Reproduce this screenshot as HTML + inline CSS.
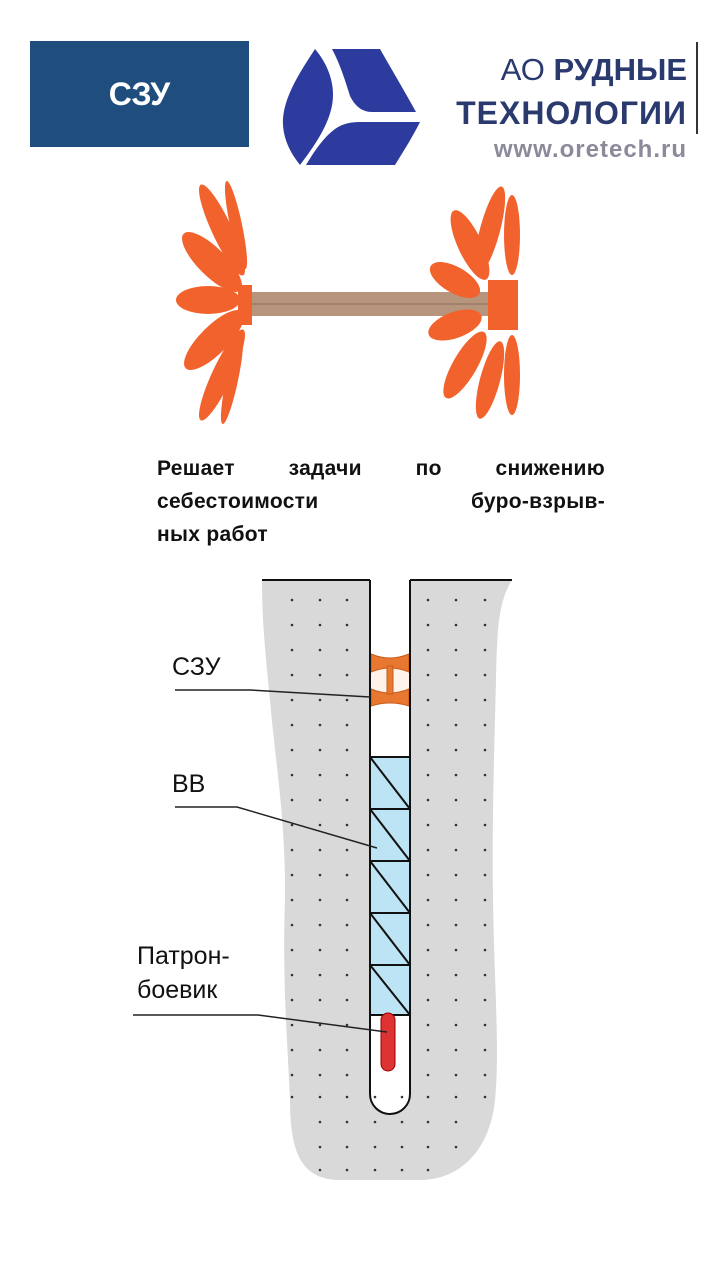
<!DOCTYPE html>
<html><head><meta charset="utf-8"><style>
body{margin:0;width:725px;height:1288px;background:#fff;position:relative;overflow:hidden;font-family:"Liberation Sans",sans-serif}
.abs{position:absolute}
.ln{display:flex;justify-content:space-between;height:33px}
</style></head><body>
<div class="abs" style="left:30px;top:41px;width:219px;height:106px;background:#1f4e7e;color:#fff;font-weight:bold;font-size:32px;line-height:106px;text-align:center">СЗУ</div>
<svg class="abs" style="left:0;top:0" width="440" height="180">
<path d="M315 49 C326 62 333 78 333 95 C333 120 315 145 300 165 C288 150 282 135 283 118 C285 95 300 72 315 49Z" fill="#2d3b9e"/>
<path d="M332 49 L380 49 C392 70 405 92 416 112 L372 112 C362 112 355 106 350 96 C345 80 340 64 332 49Z" fill="#2d3b9e"/>
<path d="M420 122 C412 138 403 152 395 165 L306 165 C315 150 324 137 335 129 C342 124 350 122 360 122Z" fill="#2d3b9e"/>
</svg>
<div class="abs" style="right:38px;top:52px;font-size:31px;color:#2b3a6e;white-space:nowrap">АО <b>РУДНЫЕ</b></div>
<div class="abs" style="right:38px;top:95px;font-size:32px;font-weight:bold;color:#2b3a6e;letter-spacing:1px">ТЕХНОЛОГИИ</div>
<div class="abs" style="right:38px;top:136px;font-size:24px;font-weight:bold;color:#8a8a9a;letter-spacing:1px">www.oretech.ru</div>
<div class="abs" style="left:696px;top:42px;width:2px;height:92px;background:#333"></div>

<svg class="abs" style="left:0;top:0" width="725" height="440">
<rect x="248" y="292" width="248" height="24" fill="#b7957c"/>
<line x1="248" y1="304" x2="496" y2="304" stroke="#8a6e5a"/>
<g fill="#f2622c">
<ellipse cx="222" cy="230" rx="10" ry="50" transform="rotate(-25 222 230)"/>
<ellipse cx="212" cy="262" rx="14" ry="40" transform="rotate(-45 212 262)"/>
<ellipse cx="208" cy="300" rx="32" ry="14"/>
<ellipse cx="214" cy="340" rx="14" ry="40" transform="rotate(45 214 340)"/>
<ellipse cx="222" cy="375" rx="10" ry="50" transform="rotate(25 222 375)"/>
<ellipse cx="232" cy="380" rx="6" ry="45" transform="rotate(12 232 380)"/>
<ellipse cx="236" cy="225" rx="6" ry="45" transform="rotate(-12 236 225)"/>
<rect x="238" y="285" width="14" height="40"/>
<ellipse cx="490" cy="230" rx="10" ry="45" transform="rotate(15 490 230)"/>
<ellipse cx="470" cy="245" rx="12" ry="38" transform="rotate(-25 470 245)"/>
<ellipse cx="455" cy="280" rx="28" ry="13" transform="rotate(30 455 280)"/>
<ellipse cx="455" cy="325" rx="28" ry="13" transform="rotate(-20 455 325)"/>
<ellipse cx="465" cy="365" rx="12" ry="38" transform="rotate(30 465 365)"/>
<ellipse cx="490" cy="380" rx="10" ry="40" transform="rotate(15 490 380)"/>
<ellipse cx="512" cy="375" rx="8" ry="40"/>
<ellipse cx="512" cy="235" rx="8" ry="40"/>
<rect x="488" y="280" width="30" height="50"/>
</g>
</svg>

<div class="abs" style="left:157px;top:452px;width:448px;font-size:21px;font-weight:bold;line-height:33px;color:#111;letter-spacing:0.3px">
<div class="ln"><span>Решает</span><span>задачи</span><span>по</span><span>снижению</span></div>
<div class="ln"><span>себестоимости</span><span>буро-взрыв-</span></div>
<div class="ln"><span>ных работ</span></div>
</div>

<svg class="abs" style="left:0;top:0" width="725" height="1288" viewBox="0 0 725 1288">
<path d="M262 580 L370 580 L370 1094 A20 20 0 0 0 410 1094 L410 580 L512 580 C500 600 497 620 496 680 C494 760 492 820 493 900 C494 980 500 1050 495 1100 C490 1150 460 1180 420 1180 L340 1180 C300 1180 290 1150 290 1100 C288 1050 282 980 285 900 C286 820 275 760 270 700 C265 650 262 620 262 580Z" fill="#d9d9d9"/>
<line x1="262" y1="580" x2="370" y2="580" stroke="#111" stroke-width="2"/>
<line x1="410" y1="580" x2="512" y2="580" stroke="#111" stroke-width="2"/>
<path d="M370 580 L370 1094 A20 20 0 0 0 410 1094 L410 580" fill="#fff" stroke="#111" stroke-width="2"/>
<rect x="371" y="660" width="38" height="40" fill="#fdf3ea"/>
<g stroke="#111" stroke-width="2">
<rect x="370" y="757" width="40" height="52" fill="#bde4f4"/>
<rect x="370" y="809" width="40" height="52" fill="#bde4f4"/>
<rect x="370" y="861" width="40" height="52" fill="#bde4f4"/>
<rect x="370" y="913" width="40" height="52" fill="#bde4f4"/>
<rect x="370" y="965" width="40" height="50" fill="#bde4f4"/>
<line x1="370" y1="757" x2="410" y2="809"/>
<line x1="370" y1="809" x2="410" y2="861"/>
<line x1="370" y1="861" x2="410" y2="913"/>
<line x1="370" y1="913" x2="410" y2="965"/>
<line x1="370" y1="965" x2="410" y2="1015"/>
</g>
<g fill="#e8772f" stroke="#c85a18" stroke-width="1">
<path d="M371 654 Q390 662 409 654 L409 672 Q390 664 371 672Z"/>
<path d="M371 689 Q390 697 409 689 L409 706 Q390 700 371 706Z"/>
<path d="M387 666 L393 666 L393 694 L387 694Z"/>
</g>
<line x1="370" y1="645" x2="370" y2="715" stroke="#111" stroke-width="2"/>
<line x1="410" y1="645" x2="410" y2="715" stroke="#111" stroke-width="2"/>
<rect x="381" y="1013" width="14" height="58" rx="7" fill="#d33" stroke="#900"/>
<g stroke="#222" stroke-width="1.5" fill="none">
<polyline points="175,690 250,690 370,697"/>
<polyline points="175,807 237,807 377,848"/>
<polyline points="133,1015 258,1015 387,1032"/>
</g>
<g font-family="Liberation Sans,sans-serif" font-size="25" fill="#111">
<text x="172" y="675">СЗУ</text>
<text x="172" y="792">ВВ</text>
<text x="137" y="964">Патрон-</text>
<text x="137" y="998">боевик</text>
</g>
</svg>
<svg class="abs" style="left:0;top:0" width="725" height="1288">
<defs><g id="row"><circle cx="292" cy="0" r="1.3"/><circle cx="320" cy="0" r="1.3"/><circle cx="347" cy="0" r="1.3"/><circle cx="428" cy="0" r="1.3"/><circle cx="456" cy="0" r="1.3"/><circle cx="485" cy="0" r="1.3"/></g></defs>
<g fill="#333">
<use href="#row" y="600"/><use href="#row" y="625"/><use href="#row" y="650"/><use href="#row" y="675"/><use href="#row" y="700"/><use href="#row" y="725"/><use href="#row" y="750"/><use href="#row" y="775"/><use href="#row" y="800"/><use href="#row" y="825"/><use href="#row" y="850"/><use href="#row" y="875"/><use href="#row" y="900"/><use href="#row" y="925"/><use href="#row" y="950"/><use href="#row" y="975"/><use href="#row" y="1000"/><use href="#row" y="1025"/><use href="#row" y="1050"/><use href="#row" y="1075"/><use href="#row" y="1097"/>
<circle cx="375" cy="1097" r="1.3"/><circle cx="402" cy="1097" r="1.3"/>
<circle cx="320" cy="1122" r="1.3"/><circle cx="347" cy="1122" r="1.3"/><circle cx="375" cy="1122" r="1.3"/><circle cx="402" cy="1122" r="1.3"/><circle cx="428" cy="1122" r="1.3"/><circle cx="456" cy="1122" r="1.3"/>
<circle cx="320" cy="1147" r="1.3"/><circle cx="347" cy="1147" r="1.3"/><circle cx="375" cy="1147" r="1.3"/><circle cx="402" cy="1147" r="1.3"/><circle cx="428" cy="1147" r="1.3"/><circle cx="456" cy="1147" r="1.3"/>
<circle cx="320" cy="1170" r="1.3"/><circle cx="347" cy="1170" r="1.3"/><circle cx="375" cy="1170" r="1.3"/><circle cx="402" cy="1170" r="1.3"/><circle cx="428" cy="1170" r="1.3"/>
</g>
</svg>
</body></html>
